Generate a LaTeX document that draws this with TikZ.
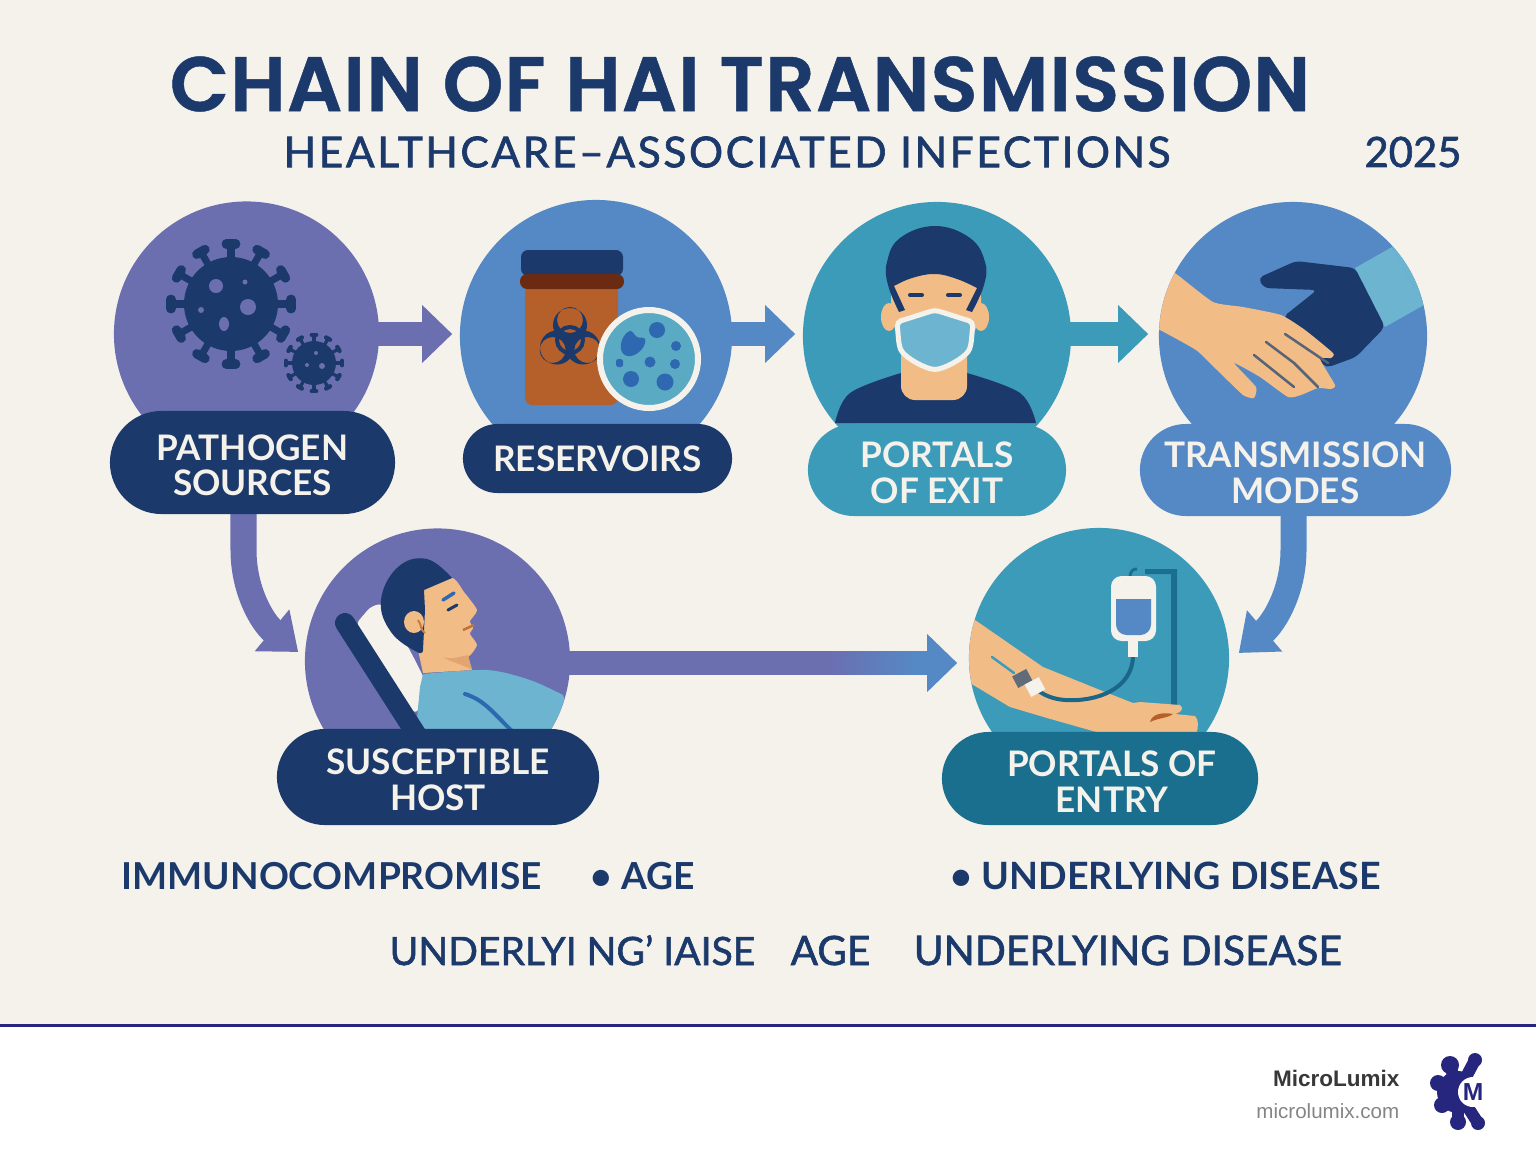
\documentclass[tikz,border=0pt]{standalone}
\usepackage{fontspec}
\usetikzlibrary{arrows.meta}
\usetikzlibrary{calc}
\usetikzlibrary{shapes.misc}
\newfontfamily\titlefont[LetterSpace=1.5,FakeBold=0.6]{Poppins SemiBold}
\newfontfamily\subfont[LetterSpace=6,FakeBold=1.5]{Lato}
\newfontfamily\labelfont{Lato}
\newfontfamily\thinfont[FakeBold=1.5]{Lato}
\newfontfamily\footfont{Liberation Sans}
\definecolor{paper}{HTML}{F5F2EC}
\definecolor{navy}{HTML}{1B3A6B}
\definecolor{violetfill}{HTML}{6B6FB0}
\definecolor{cobalt}{HTML}{5589C5}
\definecolor{teal}{HTML}{3D9BBA}
\definecolor{deepteal}{HTML}{1B6F8E}
\definecolor{skin}{HTML}{F2BC87}
\definecolor{sky}{HTML}{6CB4D0}
\definecolor{rust}{HTML}{B5602A}
\definecolor{lidbrown}{HTML}{6B2A12}
\definecolor{brand}{HTML}{26267F}
\definecolor{colony}{HTML}{2D68B0}
\tikzset{
	disc/.style={circle, inner sep=0pt},
	pill/.style={rounded rectangle, inner sep=0pt, align=center, text=paper, font=\labelfont\bfseries\fontsize{10}{10.2}\selectfont},
	flow/.style={line width=0.24cm, -{Triangle[length=0.3cm,width=0.56cm]}, shorten >=0.07cm, shorten <=-0.03cm},
	bend flow/.style={line width=0.26cm, -{Triangle[length=0.34cm,width=0.52cm]}},
	note/.style={text=navy, inner sep=0pt, anchor=base west},
}
% taller first line, sets two-line labels a little lower
\newcommand{\lift}{\rule{0pt}{8.9pt}}
% one germ: centre, body radius, spike reach
\newcommand{\germ}[3]{
	\fill[navy] (#1,#2) circle (#3);
	\foreach \a in {0,30,...,330} {
		\draw[navy, line width=#3*0.015mm, shift={(#1,#2)}, rotate=\a] (#3*0.9,0) -- (#3*1.28,0);
		\draw[navy, line width=#3*0.02mm, line cap=round, shift={(#1,#2)}, rotate=\a] (#3*1.28,-#3*0.1) -- (#3*1.28,#3*0.1);
	}
}
\begin{document}
\begin{tikzpicture}[x=0.01cm,y=-0.01cm]
\useasboundingbox (0,0) rectangle (1536,1154);
\fill[white] (0,0) rectangle (1536,1154);
\fill[paper] (0,0) rectangle (1536,1024);
\fill[brand] (0,1024) rectangle (1536,1027);

\node[text=navy, inner sep=0pt, font=\titlefont\fontsize{22}{24}\selectfont] (title) at (740,84) {CHAIN OF HAI TRANSMISSION};
\node[text=navy, inner sep=0pt, font=\subfont\fontsize{12.1}{15}\selectfont] (subtitle) at (727,152) {HEALTHCARE–ASSOCIATED INFECTIONS};
\node[text=navy, inner sep=0pt, font=\thinfont\fontsize{11.9}{15}\selectfont] (year) at (1413,152) {2025};

% the six discs
\node[disc, fill=violetfill, minimum size=2.65cm] (sourcedisc) at (246.5,334) {};
\node[disc, fill=cobalt, minimum size=2.72cm] (reservoirdisc) at (596,336) {};
\node[disc, fill=teal, minimum size=2.68cm] (exitdisc) at (937,336) {};
\node[disc, fill=cobalt, minimum size=2.68cm] (modedisc) at (1293,336) {};
\node[disc, fill=violetfill, minimum size=2.65cm] (hostdisc) at (437.5,661) {};
\node[disc, fill=teal, minimum size=2.6cm] (entrydisc) at (1099,658) {};

% pills come first so the connectors can start at them
\path (252.5,462.5) node[pill, minimum width=2.85cm, minimum height=1.03cm] (source) {};
\path (1295.5,470) node[pill, minimum width=3.11cm, minimum height=0.92cm] (mode) {};

\draw[flow, violetfill] (sourcedisc.east) -- (reservoirdisc.west |- sourcedisc.east);
\draw[flow, cobalt] (reservoirdisc.east |- sourcedisc.east) -- (exitdisc.west |- sourcedisc.east);
\draw[flow, teal, shorten >=0.1cm] (exitdisc.east |- sourcedisc.east) -- (modedisc.west |- sourcedisc.east);

\coordinate (fadein) at (830,663);
\coordinate (fadeout) at (915,663);
\draw[line width=0.24cm, violetfill, shorten <=-0.03cm] (hostdisc.east |- fadein) -- (fadein);
\draw[flow, cobalt, shorten >=0.11cm, shorten <=0cm] (fadeout) -- (entrydisc.west |- fadeout);
\shade[left color=violetfill, right color=cobalt] ($(fadein)+(-0.5,-11.8)$) rectangle ($(fadeout)+(0.5,11.8)$);

\coordinate (hostin) at ($(hostdisc.west)+(-6,-9)$);
\coordinate (entryin) at ($(entrydisc.east)+(9,-5)$);
\draw[bend flow, violetfill] ($(source.south)+(-9,-2)$) -- (243.5,550) .. controls (243.5,590) and (262,622) .. (hostin);
\draw[bend flow, cobalt] ($(mode.south)+(-2,-2)$) -- (1293.5,550) .. controls (1293.5,590) and (1275,622) .. (entryin);

% germs
\germ{231}{304}{47}
\germ{314}{363}{22}
\fill[violetfill] (216,286) circle (7) (245,282) circle (2.5) (248,307) circle (8) (201,310) circle (3);
\fill[violetfill] (224,324) ellipse (5 and 7);
\fill[violetfill] (316,353) circle (2) (322,366) circle (3) (307,365) circle (2);

% jar and dish
\fill[rust, rounded corners=2] (525,285) rectangle (618,405);
\fill[navy, rounded corners=2] (521,250) rectangle (623,276);
\fill[lidbrown, rounded corners=2] (520,274) rectangle (624,289);
\begin{scope}[shift={(570,340)}]
	\foreach \a in {270,30,150} {
		\fill[navy, even odd rule] (\a:15) circle (17) ($(\a:20)$) circle (13);
	}
	\draw[navy, line width=0.4mm] (0,0) circle (13);
	\fill[navy] (0,0) circle (3);
\end{scope}
\fill[teal!85!white, draw=paper, line width=0.6mm] (649,359) circle (49);
\fill[colony] (657,330) circle (8) (676,346) circle (5) (650,362) circle (5.5) (675,364) circle (5) (631,379) circle (8) (665,382) circle (8.5);
\fill[colony, rounded corners=0.5] (616,359) rectangle (623,367);
\fill[colony] plot[smooth cycle, tension=0.7] coordinates {(622,340) (630,331) (637,337) (645,339) (642,349) (631,356) (622,352)};

% person with mask
\begin{scope}
	\clip (937,336) circle (134);
	\fill[navy] plot[smooth, tension=0.6] coordinates {(835,423) (850,393) (901,373)} -- (967,373) -- plot[smooth, tension=0.6] coordinates {(967,373) (1020,393) (1036,423)} -- cycle;
\end{scope}
\fill[skin] (889,317) ellipse (8 and 14) (981,317) ellipse (8 and 14);
\fill[skin, rounded corners=4] (901,340) rectangle (967,400);
\fill[skin] plot[smooth cycle, tension=0.6] coordinates {(895,280) (935,272) (977,285) (975,330) (935,372) (897,330)};
\fill[navy] plot[smooth, tension=0.7] coordinates {(899,312) (888,285) (887,262) (900,238) (935,226) (970,238) (985,262) (984,285) (972,312)} -- (966,310) -- (977,288) -- plot[smooth, tension=0.7] coordinates {(977,288) (957,279) (935,274) (912,278) (894,286)} -- (905,310) -- cycle;
\draw[navy, line width=0.4mm, line cap=round] (910,295) -- (922,295);
\draw[navy, line width=0.4mm, line cap=round] (948,295) -- (960,295);
\draw[fill=sky, draw=paper, line width=0.5mm, rounded corners=1.2] (935,310) -- (897,322) -- (899,345) .. controls (903,356) and (920,366) .. (935,370) .. controls (950,366) and (967,356) .. (971,345) -- (973,322) -- cycle;

% two hands
\begin{scope}
	\clip (1293,336) circle (134);
	\fill[sky] (1355,268) -- (1392,247) -- (1424,305) -- (1385,327) -- cycle;
	\fill[sky] (1392,247) -- (1440,220) -- (1440,290) -- (1424,305) -- cycle;
	\fill[navy, rounded corners=1.5] (1258,278) -- (1296,261) -- (1355,268) -- (1385,327) -- (1356,357) -- (1326,368) -- (1283,317) -- (1317,290) -- (1264,288) -- cycle;
	\fill[skin] plot[smooth, tension=0.3] coordinates {(1150,258) (1175,273) (1213,302) (1243,307) (1281,315) (1305,330) (1333,353) (1331,358) (1320,359) (1335,385) (1331,389) (1318,388) (1301,395) (1288,397) (1260,377) (1234,363) (1256,387) (1254,398) (1243,395) (1217,370) (1196,350) (1160,330) (1130,315)};
	\draw[gray!60!navy, line width=0.25mm, line cap=round] (1285,334) -- (1328,363);
	\draw[gray!60!navy, line width=0.25mm, line cap=round] (1266,342) -- (1294,363) -- (1318,387);
	\draw[gray!60!navy, line width=0.25mm, line cap=round] (1254,355) -- (1294,387);
\end{scope}

% patient in bed
\fill[paper, rounded corners=2] (355,625) -- (372,605) -- (385,604) -- (415,660) -- (425,680) -- (417,715) -- (400,700) -- cycle;
\begin{scope}
	\clip (437.5,661) circle (132.5);
	\fill[sky] plot[smooth, tension=0.5] coordinates {(423,674) (487,670) (530,680) (563,695)} -- (580,740) -- (415,740) -- (420,687) -- cycle;
	\draw[colony, line width=0.4mm, line cap=round] (465,694) .. controls (485,700) and (495,715) .. (513,732);
\end{scope}
\draw[navy, line width=0.2cm, line cap=round] (345,623) -- (420,740);
\fill[skin] plot[smooth cycle, tension=0.35] coordinates {(420,590) (452,578) (464,592) (477,610) (470,621) (473,628) (470,634) (477,645) (468,657) (448,660) (420,650)} ;
\fill[skin] (418,650) -- (423,673) -- (472,670) -- (466,650) -- (440,600) -- cycle;
\fill[skin!75!rust] (443,657) .. controls (452,660) and (462,656) .. (468,655) -- (472,670) .. controls (462,664) and (450,662) .. cycle;
\fill[navy] plot[smooth, tension=0.7] coordinates {(452,578) (427,559) (398,567) (381,600) (391,632) (417,652) (423,650)} -- (425,610) -- (424,590) -- (452,578) -- cycle;
\fill[skin] (414,622) circle (10 and 11);
\draw[rust!70!skin, line width=0.2mm] (418,620) .. controls (422,625) and (420,630) .. (425,633);
\draw[colony, line width=0.35mm, line cap=round] (443,600) -- (454,593);
\draw[navy, line width=0.3mm, line cap=round] (448,610) -- (457,605);
\draw[rust!80!skin, line width=0.25mm] (463,630) -- (474,625);

% drip and arm
\fill[deepteal] (1145,569) rectangle (1177,574) (1171,569) rectangle (1177,705);
\draw[deepteal, line width=0.3mm] (1130,578) .. controls (1130,570) and (1134,569) .. (1137,569);
\begin{scope}
	\clip (1099,658) circle (130);
	\fill[skin] (950,610) -- (975,620) -- (1043,667) -- (1105,692) -- (1133,703) -- (1140,702) -- (1180,705) .. controls (1184,708) and (1182,712) .. (1175,714) -- (1195,716) .. controls (1199,720) and (1198,726) .. (1197,732) -- (1107,735) -- (1047,718) -- (1010,707) -- (970,683) -- (950,670) -- cycle;
\end{scope}
\fill[rust] (1150,722) .. controls (1152,714) and (1162,712) .. (1173,714) .. controls (1168,718) and (1158,718) .. (1150,722) -- cycle;
\draw[teal, line width=0.25mm, line cap=round] (992,657) -- (1014,673);
\draw[deepteal!85!navy, line width=0.4mm, line cap=round] (1133,655) .. controls (1133,690) and (1095,702) .. (1065,700) .. controls (1052,699) and (1045,695) .. (1040,692);
\fill[paper, rounded corners=3] (1111,576) rectangle (1156,641);
\fill[paper] (1128,641) rectangle (1138,657);
\fill[cobalt] (1116,599) -- (1151,599) [rounded corners=3] -- (1151,635) -- (1116,635) [sharp corners] -- cycle;
\fill[gray!70!navy, rotate around={28:(1022,678)}] (1014,672) rectangle (1030,685);
\fill[paper, rotate around={28:(1035,687)}] (1027,680) rectangle (1043,694);

% the labels
\path (source) node[pill, fill=navy, minimum width=2.85cm, minimum height=1.03cm] (sourcelabel) {\lift PATHOGEN\\SOURCES};
\node[pill, fill=navy, minimum width=2.69cm, minimum height=0.69cm] (reservoirs) at (597.5,458.5) {RESERVOIRS};
\node[pill, fill=teal, minimum width=2.58cm, minimum height=0.92cm] (exitlabel) at (937,470) {\lift PORTALS\\OF EXIT};
\path (mode) node[pill, fill=cobalt, minimum width=3.11cm, minimum height=0.92cm] (modelabel) {\lift TRANSMISSION\\MODES};
\node[pill, fill=navy, minimum width=3.22cm, minimum height=0.96cm] (hostlabel) at (438,777) {\lift SUSCEPTIBLE\\HOST};
\node[pill, fill=deepteal, minimum width=3.16cm, minimum height=0.93cm] (entrylabel) at (1100,778.5) {};
\node[pill] (entrytext) at (1112,782) {PORTALS OF\\ENTRY};

% lists under the chain
\node[note, font=\labelfont\bfseries\fontsize{10.55}{13}\selectfont] (listone) at (121,889) {IMMUNOCOMPROMISE};
\node[note, font=\labelfont\bfseries\fontsize{10.6}{13}\selectfont] (listtwo) at (590,889) {• AGE};
\node[note, font=\labelfont\bfseries\fontsize{10.7}{13}\selectfont] (listthree) at (950,889) {• UNDERLYING DISEASE};
\node[note, font=\thinfont\fontsize{11.1}{13}\selectfont] (listfour) at (389,965) {UNDERLYI NG’ IAISE};
\node[note, font=\thinfont\fontsize{11.5}{13}\selectfont] (listfive) at (790,965) {AGE};
\node[note, font=\thinfont\fontsize{11.6}{13}\selectfont] (listsix) at (913,965) {UNDERLYING DISEASE};

% brand corner
\node[anchor=east, inner sep=0pt, text=black!78, font=\footfont\bfseries\fontsize{6.4}{8}\selectfont] (brandname) at (1400,1078) {MicroLumix};
\node[anchor=east, inner sep=0pt, text=black!48, font=\footfont\fontsize{5.85}{8}\selectfont] (brandsite) at (1400,1111) {microlumix.com};
\draw[brand, line width=1.2mm, line cap=round] (1458,1092) -- (1475,1060);
\draw[brand, line width=1.2mm, line cap=round] (1458,1092) -- (1450,1065);
\draw[brand, line width=1.2mm, line cap=round] (1458,1092) -- (1438,1083);
\draw[brand, line width=1.2mm, line cap=round] (1458,1092) -- (1442,1105);
\draw[brand, line width=1.2mm, line cap=round] (1458,1092) -- (1458,1122);
\draw[brand, line width=1.2mm, line cap=round] (1458,1092) -- (1478,1123);
\fill[brand] (1458,1092) circle (21);
\fill[brand] (1475,1060) circle (7) (1450,1065) circle (9) (1438,1083) circle (8) (1442,1105) circle (8) (1458,1122) circle (8) (1478,1123) circle (7);
\fill[white] (1473,1092) circle (15);
\node[text=brand, inner sep=0pt, font=\footfont\bfseries\fontsize{7}{8}\selectfont] (brandmark) at (1473,1092) {M};
\end{tikzpicture}
\end{document}
